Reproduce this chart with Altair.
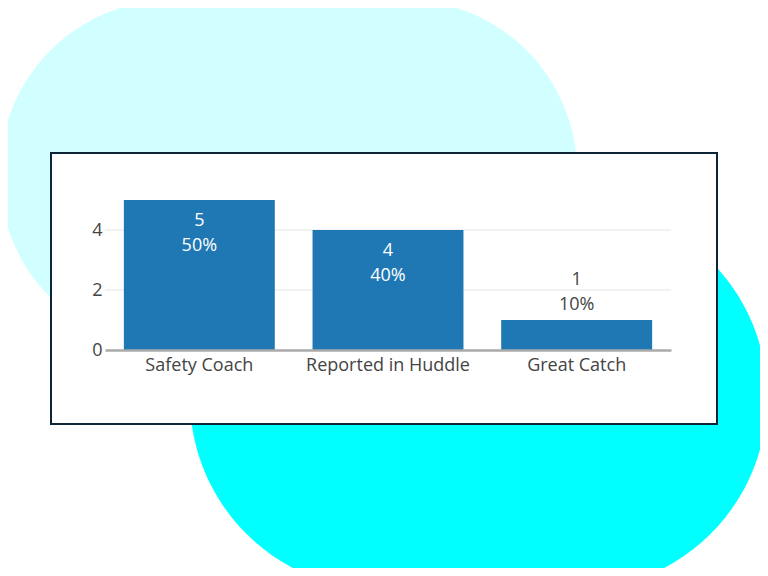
import altair as alt
import pandas as pd

# ---- data ----
categories = ["Safety Coach", "Reported in Huddle", "Great Catch"]
counts = [5, 4, 1]
percents = ["50%", "40%", "10%"]
y_ticks = [0, 2, 4]
grid_values = [2, 4]

df = pd.DataFrame({"category": categories, "count": counts, "pct": percents})
df["label"] = df["count"].astype(str) + "\n" + df["pct"]
grid_df = pd.DataFrame({"g": grid_values})

FONT = "Open Sans"
TEXT_GREY = "#444444"
BAR_BLUE = "#1f77b4"

# ---- geometry of the page (plot area placed inside the decorated card) ----
W, H = 566, 156          # plot area
PAD_L, PAD_T = 97, 186
TOTAL_W, TOTAL_H = 752, 560

one = pd.DataFrame({"k": [0]})


def deco_rect(x0, x1, y0, y1, **mark):
    # page coordinates -> plot coordinates
    ox, oy = PAD_L + 8, PAD_T + 8
    return alt.Chart(one).mark_rect(**mark).encode(
        x=alt.value(x0 - ox), x2=alt.value(x1 - ox),
        y=alt.value(y0 - oy), y2=alt.value(y1 - oy),
    )


light_blob = deco_rect(0, 577, 0, 348, color="#d1ffff", cornerRadius=172)
bright_blob = deco_rect(190, 767, 205, 590, color="#00ffff", cornerRadius=192)
card = deco_rect(51, 717, 153, 424, fill="white", stroke="#0d2536", strokeWidth=2)

y_scale = alt.Scale(domain=[0, 5.2], nice=False, zero=True)

x_enc = alt.X("category:N", sort=categories, title=None,
              scale=alt.Scale(paddingInner=0.2, paddingOuter=0.1),
              axis=alt.Axis(labelAngle=0, ticks=False, domain=True,
                            domainColor="#aaaaaa", domainWidth=2.5,
                            labelFont=FONT, labelFontSize=18,
                            labelColor=TEXT_GREY, labelPadding=6,
                            grid=False, zindex=1))
y_enc = alt.Y("count:Q", title=None, scale=y_scale,
              axis=alt.Axis(values=y_ticks, ticks=False, domain=False,
                            grid=False, labelFont=FONT, labelFontSize=18,
                            labelColor=TEXT_GREY, labelPadding=3, zindex=1))

gridlines = alt.Chart(grid_df).mark_rule(color="#eeeeee", strokeWidth=1.5).encode(
    y=alt.Y("g:Q", scale=y_scale)
)

base = alt.Chart(df)

bars = base.mark_bar(color=BAR_BLUE).encode(x=x_enc, y=y_enc)

text_in = base.transform_filter("datum.count >= 2").mark_text(
    lineBreak="\n", lineHeight=25, baseline="top", dy=12,
    font=FONT, fontSize=18, color="white"
).encode(x=alt.X("category:N", sort=categories), y="count:Q", text="label:N")

text_out = base.transform_filter("datum.count < 2").mark_text(
    lineBreak="\n", lineHeight=25, baseline="bottom", dy=-31,
    font=FONT, fontSize=18, color=TEXT_GREY
).encode(x=alt.X("category:N", sort=categories), y="count:Q", text="label:N")

chart = alt.layer(
    light_blob, bright_blob, card, gridlines, bars, text_in, text_out
).properties(
    width=W, height=H,
    autosize=alt.AutoSizeParams(type="none"),
    padding={"left": PAD_L, "top": PAD_T,
             "right": TOTAL_W - PAD_L - W, "bottom": TOTAL_H - PAD_T - H},
).configure_view(stroke=None).configure(background="white")

chart.save("out.html", embed_options={"renderer": "svg", "actions": False})
